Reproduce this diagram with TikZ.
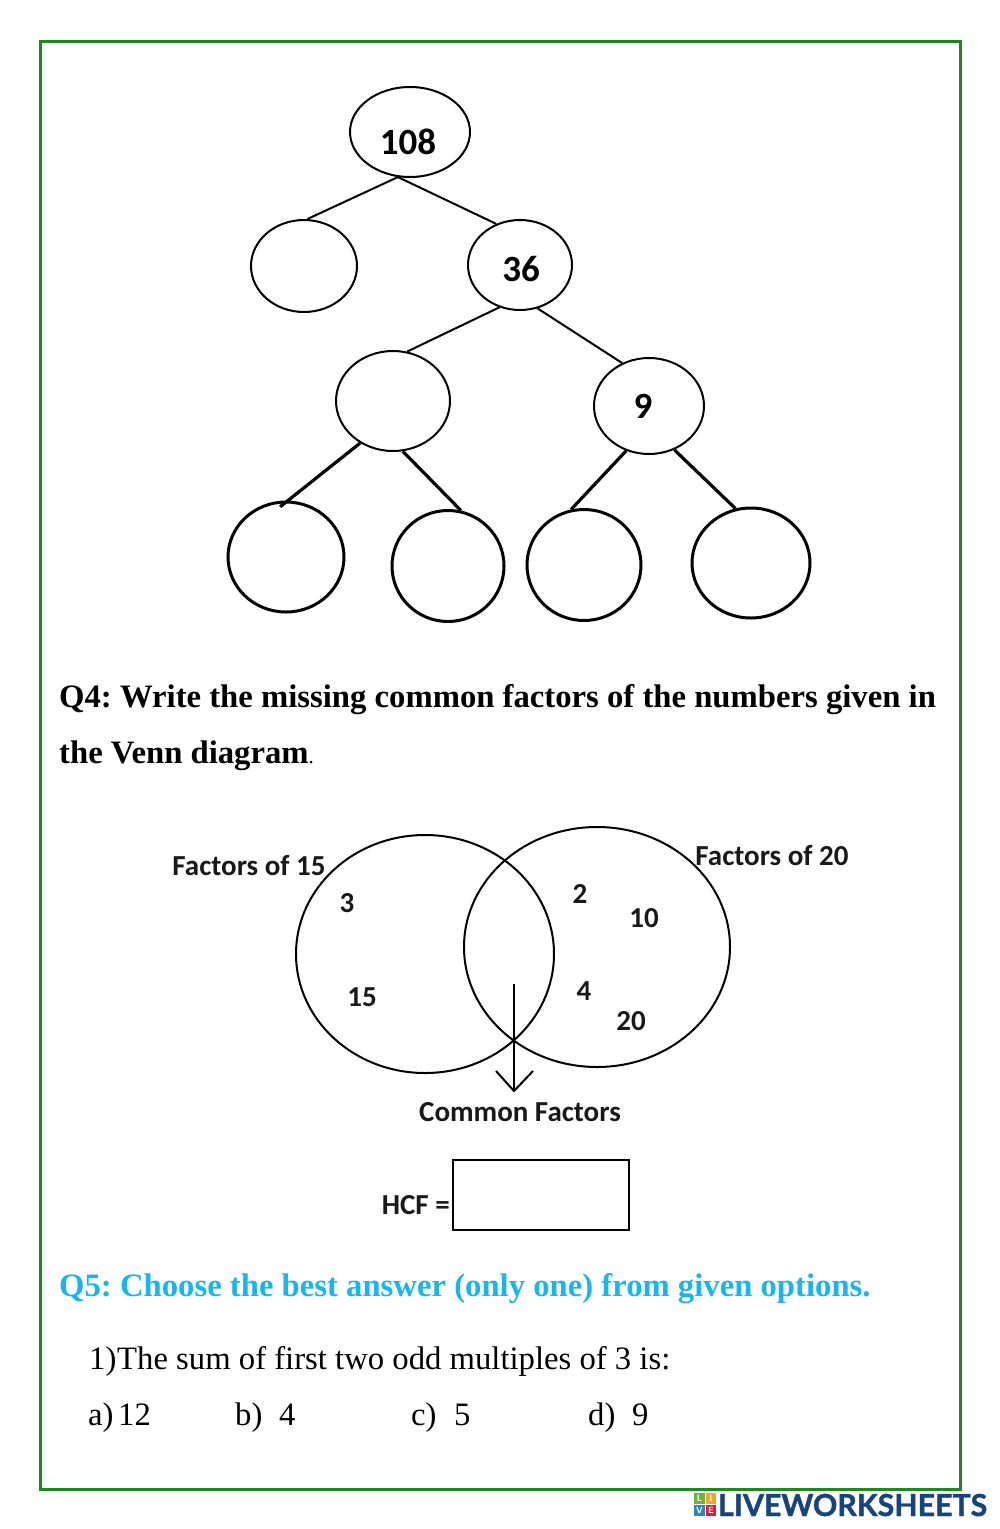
\documentclass[tikz,border=0pt]{standalone}
\usepackage{fontspec}
\setmainfont{Liberation Serif}
\newfontfamily\calfam{Carlito}
\newfontfamily\logof{Lato}[BoldFeatures={FakeBold=1.2}]
\usetikzlibrary{shapes.geometric}
\definecolor{frameg}{HTML}{1E8A1E}
\definecolor{qcyan}{HTML}{19B5EE}
\definecolor{logob}{HTML}{17447C}
\definecolor{tileg}{HTML}{6DB33F}
\definecolor{tileo}{HTML}{F5A623}
\definecolor{tileb}{HTML}{2E86C1}
\definecolor{tiler}{HTML}{E4173E}
\tikzset{
  x=1pt,y=-1pt,
  thin el/.style={ellipse,draw=black,line width=2pt,inner sep=0pt},
  thick el/.style={ellipse,draw=black,line width=3pt,inner sep=0pt},
  tl/.style={line width=2pt,black},
  tk/.style={line width=3.2pt,black},
  num/.style={font=\calfam\bfseries\fontsize{37}{37}\selectfont,inner sep=0pt},
  vlabel/.style={font=\calfam\bfseries\fontsize{29}{29}\selectfont,inner sep=0pt,text=black!90},
  head/.style={font=\bfseries\fontsize{32.7}{32.7}\selectfont,anchor=base west,inner sep=0pt},
  body/.style={font=\fontsize{32.7}{32.7}\selectfont,anchor=base west,inner sep=0pt},
  lsq/.style={minimum size=10.5pt,inner sep=0pt,font=\sffamily\bfseries\fontsize{9}{9}\selectfont,text=white},
}
\begin{document}
\frenchspacing
\begin{tikzpicture}
\useasboundingbox (0,0) rectangle (1000,1529);
\fill[white] (0,0) rectangle (1000,1529);
\node[rectangle,draw=frameg,line width=3pt,minimum width=920pt,minimum height=1448pt,inner sep=0pt] (frame) at (500,765) {};
% factor tree
\node[thin el,minimum width=120pt,minimum height=90pt] (a) at (410,132) {};
\node[thin el,minimum width=106pt,minimum height=92pt] (b) at (304,266) {};
\node[thin el,minimum width=104pt,minimum height=90pt] (c) at (520,265) {};
\node[thin el,minimum width=114pt,minimum height=100pt] (d) at (393,401) {};
\node[thin el,minimum width=110pt,minimum height=96pt] (e) at (649,406) {};
\node[thick el,minimum width=116pt,minimum height=110pt] (f) at (286,557) {};
\node[thick el,minimum width=112pt,minimum height=111pt] (g) at (448,566) {};
\node[thick el,minimum width=114pt,minimum height=111pt] (h) at (584,565) {};
\node[thick el,minimum width=118pt,minimum height=110pt] (i) at (751,563) {};
\node[num] (ta) at (408,142) {108};
\node[num] (tc) at (521,269) {36};
\node[num] (te) at (643,406) {9};
\draw[tl] (a.255) -- (b.86);
\draw[tl] (a.255) -- (c.120);
\draw[tl] (c.244) -- (d.74);
\draw[tl] (c.292) -- (e.122);
\draw[tk,shorten >=-10pt] (d.232) -- (f.88);
\draw[tk] (d.281) -- (g.77);
\draw[tk] (e.243) -- (h.103);
\draw[tk] (e.300) -- (i.106);
% Q4
\node[head] (q4a) at (59,707) {Q4: Write the missing common factors of the numbers given in};
\node[head] (q4b) at (59,763) {the Venn diagram{\mdseries\fontsize{21}{21}\selectfont.}};
% Venn
\node[thin el,minimum width=258pt,minimum height=238pt] (v1) at (425,954) {};
\node[thin el,minimum width=266pt,minimum height=240pt] (v2) at (597,947) {};
\node[vlabel] (l15) at (249,866) {Factors of 15};
\node[vlabel] (l20) at (772,856) {Factors of 20};
\node[vlabel] (n3) at (347,903) {3};
\node[vlabel] (n15) at (362,997) {15};
\node[vlabel] (n2) at (580,894) {2};
\node[vlabel] (n10) at (644,918) {10};
\node[vlabel] (n4) at (584,991) {4};
\node[vlabel] (n20) at (631,1021) {20};
\node[vlabel] (cf) at (520,1112) {Common Factors};
\coordinate (as) at (514,984);
\coordinate (ae) at (514,1091);
\coordinate (al) at (496,1071);
\coordinate (ar) at (533,1071);
\draw[line width=2pt] (as) -- (ae);
\draw[line width=2pt] (al) -- (ae) -- (ar);
\node[rectangle,draw=black,line width=2.6pt,minimum width=176pt,minimum height=70pt,inner sep=0pt] (box) at (541,1195) {};
\node[vlabel,anchor=east] (hcf) at (450,1205) {HCF =};
% Q5
\node[head,text=qcyan] (q5) at (59,1296) {Q5: Choose the best answer (only one) from given options.};
\node[body] (s1) at (89,1369) {1)};
\node[body] (s2) at (117,1369) {The sum of first two odd multiples of 3 is:};
\node[body] (o1) at (88,1425) {a)};
\node[body] (o2) at (118,1425) {12};
\node[body] (o3) at (235,1425) {b)};
\node[body] (o4) at (279,1425) {4};
\node[body] (o5) at (411,1425) {c)};
\node[body] (o6) at (454,1425) {5};
\node[body] (o7) at (588,1425) {d)};
\node[body] (o8) at (632,1425) {9};
% logo
\node[lsq,fill=tileg,anchor=north west] (s1a) at (694,1493) {L};
\node[lsq,fill=tileo,anchor=north west] (s1b) at (705.5,1493) {I};
\node[lsq,fill=tileb,anchor=north west] (s1c) at (694,1505) {V};
\node[lsq,fill=tiler,anchor=north west] (s1d) at (705.5,1505) {E};
\node[font=\logof\bfseries\fontsize{32}{32}\selectfont,text=logob,anchor=base west,inner sep=0pt] (logo) at (718,1516) {\resizebox{269pt}{!}{LIVEWORKSHEETS}};
\end{tikzpicture}
\end{document}
